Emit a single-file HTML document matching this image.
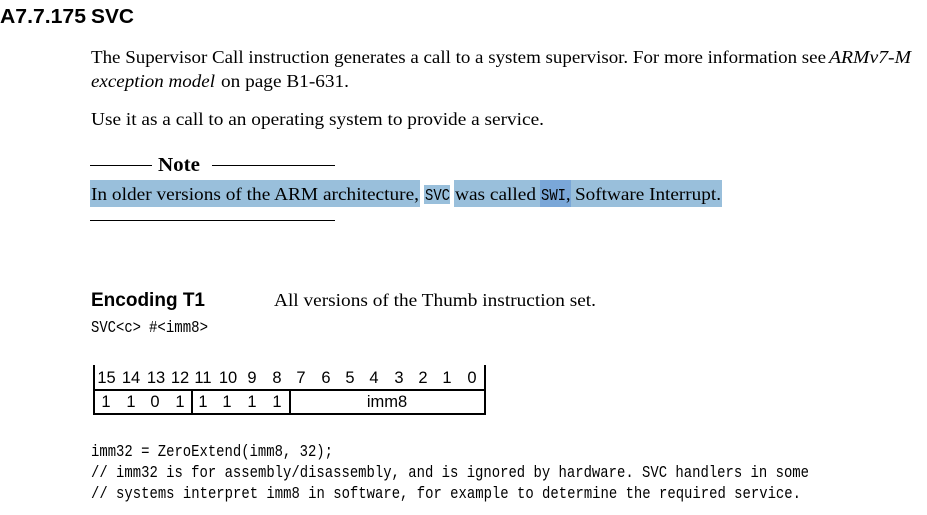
<!DOCTYPE html>
<html><head><meta charset="utf-8">
<style>
html,body{margin:0;padding:0;background:#fff;width:927px;height:515px;overflow:hidden}
svg{display:block}
text{fill:#000;white-space:pre}
.s{font-family:"Liberation Serif",serif;font-size:18px}
.i{font-style:italic}
.b{font-family:"Liberation Sans",sans-serif;font-weight:bold}
.a{font-family:"Liberation Sans",sans-serif;font-size:16.5px;text-anchor:middle}
.m{font-family:"Liberation Mono",monospace;font-size:17px}
</style></head><body>
<svg width="927" height="515" viewBox="0 0 927 515" xmlns="http://www.w3.org/2000/svg">
<rect width="927" height="515" fill="#fff"/>
<text class="b" font-size="20" x="0" y="23" textLength="86" lengthAdjust="spacingAndGlyphs">A7.7.175</text>
<text class="b" font-size="20" x="91" y="23" textLength="43" lengthAdjust="spacingAndGlyphs">SVC</text>

<text class="s" x="91" y="63" textLength="735" lengthAdjust="spacingAndGlyphs">The Supervisor Call instruction generates a call to a system supervisor. For more information see</text>
<text class="s i" x="829" y="63" textLength="82" lengthAdjust="spacingAndGlyphs">ARMv7-M</text>
<text class="s i" x="91" y="87" textLength="124" lengthAdjust="spacingAndGlyphs">exception model</text>
<text class="s" x="221" y="87" textLength="128" lengthAdjust="spacingAndGlyphs">on page B1-631.</text>
<text class="s" x="91" y="125" textLength="453" lengthAdjust="spacingAndGlyphs">Use it as a call to an operating system to provide a service.</text>

<rect x="90" y="165" width="62" height="1" fill="#000"/>
<rect x="212" y="165" width="123" height="1" fill="#000"/>
<text class="s" font-weight="bold" style="font-size:20px" x="158" y="171" textLength="42" lengthAdjust="spacingAndGlyphs">Note</text>

<rect x="90" y="180" width="330" height="27" fill="#99bfdb"/>
<rect x="424" y="185" width="26" height="19" fill="#99bfdb"/>
<rect x="454" y="180" width="86" height="27" fill="#99bfdb"/>
<rect x="540" y="180" width="31" height="27" fill="#7aa7d8"/>
<rect x="571" y="180" width="151" height="27" fill="#99bfdb"/>
<text class="s" x="91" y="200" textLength="328" lengthAdjust="spacingAndGlyphs">In older versions of the ARM architecture,</text>
<text class="m" x="425" y="200" textLength="25" lengthAdjust="spacingAndGlyphs">SVC</text>
<text class="s" x="455" y="200" textLength="81" lengthAdjust="spacingAndGlyphs">was called</text>
<text class="m" x="541" y="200" textLength="25" lengthAdjust="spacingAndGlyphs">SWI</text>
<text class="s" x="566" y="200">,</text>
<text class="s" x="575" y="200" textLength="146" lengthAdjust="spacingAndGlyphs">Software Interrupt.</text>
<rect x="90" y="220" width="245" height="1" fill="#000"/>

<text class="b" font-size="19" x="91" y="306" textLength="114" lengthAdjust="spacingAndGlyphs">Encoding T1</text>
<text class="s" x="274" y="306" textLength="322" lengthAdjust="spacingAndGlyphs">All versions of the Thumb instruction set.</text>
<text class="m" x="91" y="332" textLength="50" lengthAdjust="spacingAndGlyphs">SVC&lt;c&gt;</text>
<text class="m" x="149" y="332" textLength="59" lengthAdjust="spacingAndGlyphs">#&lt;imm8&gt;</text>

<g fill="#000">
<rect x="93" y="365" width="2" height="50"/>
<rect x="484" y="365" width="2" height="50"/>
<rect x="93" y="389" width="393" height="2"/>
<rect x="93" y="413" width="393" height="2"/>
<rect x="191" y="389" width="2" height="26"/>
<rect x="289" y="389" width="2" height="26"/>
</g>
<g>
<text class="a" x="106.5" y="383">15</text><text class="a" x="131" y="383">14</text><text class="a" x="156" y="383">13</text><text class="a" x="180" y="383">12</text>
<text class="a" x="203" y="383">11</text><text class="a" x="228" y="383">10</text><text class="a" x="252" y="383">9</text><text class="a" x="277" y="383">8</text>
<text class="a" x="301" y="383">7</text><text class="a" x="326" y="383">6</text><text class="a" x="350" y="383">5</text><text class="a" x="374" y="383">4</text>
<text class="a" x="399" y="383">3</text><text class="a" x="423" y="383">2</text><text class="a" x="447" y="383">1</text><text class="a" x="472" y="383">0</text>
<text class="a" x="106" y="407">1</text><text class="a" x="131" y="407">1</text><text class="a" x="155" y="407">0</text><text class="a" x="180" y="407">1</text>
<text class="a" x="203" y="407">1</text><text class="a" x="227" y="407">1</text><text class="a" x="252" y="407">1</text><text class="a" x="277" y="407">1</text>
<text class="a" x="387" y="407">imm8</text>
</g>

<text class="m" x="91" y="456" textLength="242" lengthAdjust="spacingAndGlyphs">imm32 = ZeroExtend(imm8, 32);</text>
<text class="m" x="91" y="477" textLength="718" lengthAdjust="spacingAndGlyphs">// imm32 is for assembly/disassembly, and is ignored by hardware. SVC handlers in some</text>
<text class="m" x="91" y="498" textLength="710" lengthAdjust="spacingAndGlyphs">// systems interpret imm8 in software, for example to determine the required service.</text>
</svg>
</body></html>
